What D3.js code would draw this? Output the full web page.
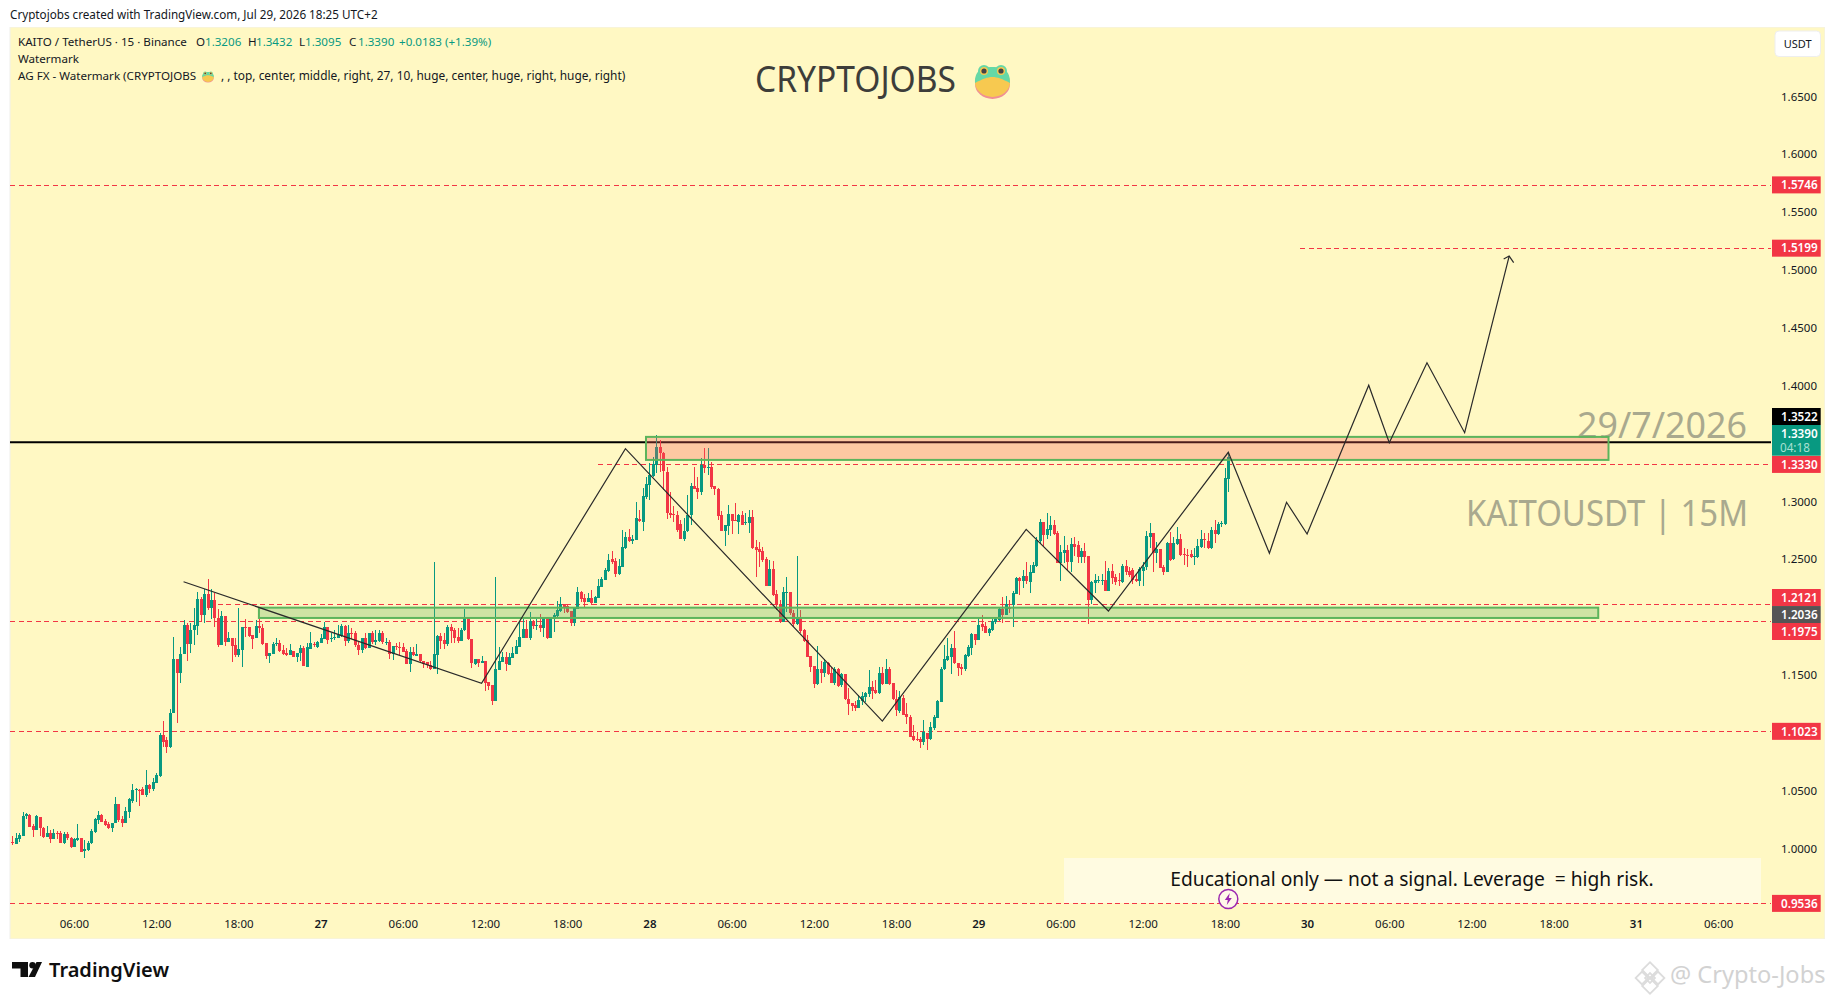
<!DOCTYPE html>
<html><head><meta charset="utf-8">
<style>html,body{margin:0;padding:0;background:#fff}svg{display:block}text{font-family:"Noto Sans",sans-serif}</style>
<script src="https://cdnjs.cloudflare.com/ajax/libs/d3/7.8.5/d3.min.js"></script></head><body><svg id="c" width="1835" height="1000"></svg>
<script>
// [open, high, low, close]
const barsFirst=[[1.0064,1.0119,1.0044,1.0056],[1.0053,1.0143,1.0053,1.0099],[1.0096,1.0143,1.0065,1.0128],[1.0120,1.0327,1.0120,1.0292],[1.0289,1.0321,1.0264,1.0307],[1.0301,1.0307,1.0200,1.0200],[1.0206,1.0220,1.0114,1.0174],[1.0174,1.0301,1.0174,1.0287],[1.0281,1.0281,1.0120,1.0189],[1.0186,1.0200,1.0105,1.0111],[1.0111,1.0206,1.0111,1.0143],[1.0143,1.0166,1.0062,1.0096],[1.0096,1.0177,1.0096,1.0143],[1.0143,1.0163,1.0096,1.0137],[1.0143,1.0163,1.0062,1.0062],[1.0062,1.0157,1.0050,1.0137],[1.0137,1.0157,1.0085,1.0105],[1.0105,1.0114,1.0019,1.0025],[1.0027,1.0105,1.0027,1.0094],[1.0088,1.0220,1.0071,1.0099],[1.0099,1.0099,.9976,.9981],[.9993,1.0085,.9924,1.0004],[.9999,1.0071,.9993,1.0056],[1.0056,1.0183,1.0050,1.0163],[1.0151,1.0278,1.0143,1.0264],[1.0258,1.0336,1.0223,1.0301],[1.0301,1.0310,1.0238,1.0243],[1.0249,1.0264,1.0206,1.0215],[1.0223,1.0243,1.0183,1.0189],[1.0189,1.0229,1.0154,1.0229],[1.0229,1.0457,1.0229,1.0396],[1.0396,1.0396,1.0243,1.0258],[1.0264,1.0287,1.0197,1.0232],[1.0232,1.0373,1.0232,1.0336],[1.0330,1.0445,1.0278,1.0436],[1.0422,1.0569,1.0402,1.0517],[1.0514,1.0531,1.0416,1.0523],[1.0520,1.0523,1.0379,1.0514],[1.0523,1.0546,1.0471,1.0477],[1.0474,1.0690,1.0459,1.0557],[1.0557,1.0566,1.0488,1.0523],[1.0523,1.0621,1.0511,1.0583],[1.0580,1.0667,1.0575,1.0647],[1.0638,1.1007,1.0629,1.0992],[1.0989,1.1110,1.0891,1.0932],[1.0946,1.0978,1.0840,1.0891],[1.0886,1.1217,1.0880,1.1182],[1.1182,1.1839,1.1182,1.1649],[1.1649,1.1649,1.1099,1.1528],[1.1528,1.1750,1.1439,1.1692],[1.1692,1.1986,1.1692,1.1943],[1.1943,1.1957,1.1634,1.1781],[1.1781,1.1957,1.1704,1.1899],[1.1899,1.2092,1.1770,1.1943],[1.1937,1.2231,1.1856,1.2167],[1.2167,1.2187,1.1971,1.2029],[1.2029,1.2251,1.1963,1.2210],[1.2210,1.2340,1.2072,1.2087],[1.2087,1.2251,1.1992,1.2159],[1.2159,1.2222,1.1922,1.2003],[1.2003,1.2078,1.1755,1.1767],[1.1770,1.2066,1.1770,1.2020],[1.2020,1.2020,1.1761,1.1799],[1.1799,1.1885,1.1799,1.1833],[1.1833,1.1833,1.1623,1.1761],[1.1770,1.1827,1.1669,1.1683],[1.1683,1.2087,1.1669,1.1735],[1.1727,1.1925,1.1583,1.1925],[1.1925,1.1992,1.1842,1.1920],[1.1925,1.1925,1.1842,1.1848],[1.1856,1.1856,1.1735,1.1825],[1.1830,1.1986,1.1830,1.1934],[1.1934,1.2009,1.1871,1.1914],[1.1914,1.1951,1.1767,1.1778],[1.1787,1.1787,1.1652,1.1675],[1.1675,1.1704,1.1617,1.1698],[1.1692,1.1799,1.1692,1.1778],[1.1778,1.1827,1.1761,1.1790],[1.1784,1.1813,1.1709,1.1718],[1.1724,1.1767,1.1683,1.1692],[1.1701,1.1741,1.1678,1.1683],[1.1683,1.1778,1.1683,1.1724],[1.1718,1.1718,1.1663,1.1669],[1.1666,1.1701,1.1626,1.1701],[1.1698,1.1767,1.1634,1.1744],[1.1744,1.1761,1.1588,1.1591],[1.1583,1.1790,1.1583,1.1750],[1.1735,1.1882,1.1735,1.1787],[1.1778,1.1799,1.1750,1.1767],[1.1755,1.1807,1.1744,1.1796],[1.1790,1.1865,1.1790,1.1830],[1.1825,1.1968,1.1819,1.1922],[1.1922,1.1922,1.1778,1.1816],[1.1825,1.1871,1.1799,1.1833],[1.1827,1.1899,1.1813,1.1839],[1.1833,1.1940,1.1827,1.1856],[1.1850,1.1951,1.1842,1.1934],[1.1934,1.1940,1.1761,1.1804],[1.1804,1.1943,1.1790,1.1871],[1.1873,1.1914,1.1825,1.1862],[1.1871,1.1894,1.1755,1.1767],[1.1767,1.1799,1.1683,1.1727],[1.1727,1.1830,1.1698,1.1830],[1.1830,1.1871,1.1735,1.1744],[1.1744,1.1873,1.1741,1.1873],[1.1873,1.1894,1.1778,1.1799],[1.1799,1.1899,1.1770,1.1813],[1.1804,1.1899,1.1799,1.1871],[1.1871,1.1894,1.1778,1.1793],[1.1784,1.1833,1.1767,1.1796],[1.1796,1.1813,1.1646,1.1692],[1.1692,1.1761,1.1640,1.1761],[1.1764,1.1790,1.1727,1.1755],[1.1755,1.1799,1.1683,1.1750],[1.1752,1.1784,1.1706,1.1712],[1.1715,1.1732,1.1606,1.1606],[1.1606,1.1750,1.1537,1.1709],[1.1709,1.1750,1.1675,1.1681],[1.1678,1.1776,1.1678,1.1689],[1.1689,1.1689,1.1626,1.1634],[1.1634,1.1634,1.1571,1.1606],[1.1620,1.1626,1.1574,1.1594],[1.1594,1.1634,1.1554,1.1565]];
const barsMiddle=[[1.1560,1.2487,1.1560,1.1692],[1.1684,1.1856,1.1519,1.1848],[1.1848,1.1871,1.1733,1.1802],[1.1813,1.1877,1.1738,1.1779],[1.1779,1.1943,1.1761,1.1925],[1.1923,1.1951,1.1790,1.1894],[1.1900,1.1914,1.1784,1.1833],[1.1836,1.1914,1.1790,1.1807],[1.1807,1.1914,1.1807,1.1900],[1.1900,1.2081,1.1894,1.2012],[1.2012,1.2012,1.1813,1.1819],[1.1822,1.1822,1.1568,1.1614],[1.1609,1.1649,1.1597,1.1649],[1.1652,1.1652,1.1583,1.1614],[1.1617,1.1675,1.1612,1.1629],[1.1629,1.1629,1.1375,1.1445],[1.1450,1.1450,1.1381,1.1419],[1.1424,1.1424,1.1252,1.1289],[1.1289,1.2355,1.1289,1.1560],[1.1557,1.1756,1.1554,1.1629],[1.1620,1.1712,1.1620,1.1666],[1.1666,1.1712,1.1548,1.1606],[1.1597,1.1704,1.1597,1.1666],[1.1658,1.1750,1.1658,1.1701],[1.1692,1.1813,1.1692,1.1761],[1.1756,1.1980,1.1756,1.1836],[1.1830,1.1992,1.1830,1.1908],[1.1908,1.1986,1.1830,1.1830],[1.1830,1.2055,1.1813,1.1974],[1.1980,1.1986,1.1905,1.1934],[1.1937,1.1992,1.1900,1.1943],[1.1943,1.2035,1.1885,1.1920],[1.1920,1.2009,1.1842,1.2003],[1.2003,1.2009,1.1819,1.1828],[1.1830,1.2015,1.1830,1.2009],[1.1992,1.2049,1.1882,1.2026],[1.2021,1.2150,1.2015,1.2072],[1.2067,1.2182,1.2058,1.2124],[1.2124,1.2124,1.2049,1.2095],[1.2107,1.2124,1.2049,1.2055],[1.2061,1.2061,1.1934,1.1963],[1.1957,1.2101,1.1934,1.2090],[1.2084,1.2268,1.2084,1.2228],[1.2228,1.2234,1.2144,1.2170],[1.2176,1.2211,1.2101,1.2142],[1.2142,1.2216,1.2142,1.2176],[1.2176,1.2245,1.2113,1.2130],[1.2136,1.2193,1.2130,1.2182],[1.2176,1.2343,1.2176,1.2280],[1.2274,1.2355,1.2268,1.2340],[1.2334,1.2432,1.2332,1.2418],[1.2412,1.2556,1.2404,1.2504],[1.2510,1.2579,1.2470,1.2487],[1.2493,1.2519,1.2360,1.2383],[1.2383,1.2510,1.2375,1.2453],[1.2447,1.2764,1.2447,1.2617],[1.2608,1.2749,1.2597,1.2706],[1.2706,1.2775,1.2660,1.2671],[1.2671,1.2720,1.2640,1.2686],[1.2680,1.3003,1.2677,1.2867],[1.2856,1.2936,1.2836,1.2844],[1.2836,1.3124,1.2755,1.3057],[1.3052,1.3224,1.3029,1.3161],[1.3155,1.3340,1.3023,1.3239],[1.3233,1.3397,1.3224,1.3331],[1.3325,1.3584,1.3253,1.3478],[1.3478,1.3541,1.3265,1.3426],[1.3432,1.3440,1.3109,1.3276],[1.3265,1.3311,1.2856,1.2913],[1.2913,1.3095,1.2864,1.2893],[1.2902,1.2971,1.2836,1.2896],[1.2893,1.2931,1.2749,1.2764],[1.2815,1.2850,1.2683,1.2689],[1.2689,1.2864,1.2671,1.2752],[1.2758,1.3066,1.2749,1.2896],[1.2890,1.3167,1.2807,1.3144],[1.3144,1.3311,1.3115,1.3121],[1.3124,1.3224,1.3034,1.3095],[1.3092,1.3383,1.3066,1.3325],[1.3325,1.3469,1.3253,1.3302],[1.3302,1.3472,1.3239,1.3308],[1.3308,1.3354,1.3115,1.3138],[1.3144,1.3144,1.3066,1.3115],[1.3118,1.3124,1.2850,1.2885],[1.2893,1.2931,1.2758,1.2758],[1.2758,1.2804,1.2625,1.2804],[1.2798,1.2982,1.2720,1.2902],[1.2902,1.2902,1.2726,1.2841],[1.2850,1.2994,1.2841,1.2841],[1.2833,1.2902,1.2729,1.2890],[1.2890,1.2931,1.2807,1.2807],[1.2824,1.2913,1.2807,1.2833],[1.2824,1.2936,1.2735,1.2873],[1.2873,1.2936,1.2602,1.2608],[1.2614,1.2677,1.2360,1.2594],[1.2597,1.2663,1.2447,1.2576],[1.2579,1.2614,1.2490,1.2504],[1.2510,1.2527,1.2280,1.2283],[1.2280,1.2504,1.2280,1.2427],[1.2427,1.2496,1.2196,1.2202],[1.2208,1.2245,1.2072,1.2116],[1.2124,1.2159,1.1957,1.1972],[1.1972,1.2274,1.1972,1.2228],[1.2222,1.2355,1.2058,1.2228],[1.2228,1.2228,1.2029,1.2044],[1.2049,1.2072,1.1928,1.1951],[1.1951,1.2539,1.1943,1.2009],[1.2009,1.2072,1.1871,1.1894],[1.1900,1.1905,1.1799,1.1807],[1.1813,1.1856,1.1663,1.1669],[1.1675,1.1675,1.1540,1.1583],[1.1589,1.1589,1.1396,1.1433],[1.1433,1.1761,1.1424,1.1560],[1.1566,1.1635,1.1439,1.1525],[1.1525,1.1646,1.1496,1.1623],[1.1617,1.1626,1.1511,1.1519],[1.1525,1.1577,1.1439,1.1445],[1.1439,1.1577,1.1424,1.1560],[1.1566,1.1571,1.1410,1.1416],[1.1421,1.1525,1.1410,1.1517],[1.1517,1.1519,1.1295,1.1301],[1.1301,1.1396,1.1168,1.1260],[1.1266,1.1266,1.1203,1.1243],[1.1252,1.1289,1.1200,1.1229],[1.1229,1.1338,1.1223,1.1295],[1.1289,1.1367,1.1252,1.1329],[1.1324,1.1367,1.1280,1.1352],[1.1347,1.1554,1.1324,1.1407]];
const barsLast=[[1.1407,1.1459,1.1301,1.1375],[1.1381,1.1468,1.1347,1.1358],[1.1352,1.1577,1.1347,1.1525],[1.1525,1.1577,1.1422,1.1433],[1.1433,1.1649,1.1433,1.1563],[1.1563,1.1577,1.1424,1.1433],[1.1439,1.1439,1.1295,1.1301],[1.1306,1.1381,1.1157,1.1208],[1.1197,1.1375,1.1180,1.1318],[1.1312,1.1338,1.1165,1.1168],[1.1174,1.1266,1.1087,1.1145],[1.1148,1.1165,1.0972,1.0978],[1.0984,1.1079,1.0943,1.0949],[1.0958,1.1013,1.0938,1.0949],[1.0955,1.0978,1.0877,1.0932],[1.0932,1.1122,1.0906,1.1018],[1.1007,1.1007,1.0863,1.0958],[1.0955,1.1108,1.0949,1.1062],[1.1053,1.1165,1.1036,1.1148],[1.1142,1.1295,1.1136,1.1286],[1.1280,1.1577,1.1280,1.1566],[1.1563,1.1770,1.1554,1.1649],[1.1640,1.1828,1.1635,1.1672],[1.1666,1.1779,1.1519,1.1744],[1.1744,1.1888,1.1609,1.1614],[1.1614,1.1614,1.1502,1.1568],[1.1577,1.1606,1.1511,1.1563],[1.1563,1.1689,1.1548,1.1684],[1.1675,1.1770,1.1669,1.1753],[1.1747,1.1871,1.1684,1.1865],[1.1865,1.1865,1.1770,1.1813],[1.1813,1.2009,1.1813,1.1943],[1.1949,1.2029,1.1891,1.1928],[1.1934,1.1972,1.1871,1.1877],[1.1871,1.1914,1.1848,1.1908],[1.1900,1.1992,1.1894,1.1974],[1.1972,1.2015,1.1951,1.1992],[1.1986,1.2101,1.1980,1.2084],[1.2078,1.2188,1.1957,1.2029],[1.2029,1.2193,1.2029,1.2124],[1.2087,1.2159,1.2049,1.2081],[1.2113,1.2239,1.1928,1.2219],[1.2214,1.2360,1.2208,1.2349],[1.2349,1.2355,1.2202,1.2320],[1.2320,1.2418,1.2260,1.2366],[1.2366,1.2487,1.2297,1.2326],[1.2314,1.2461,1.2222,1.2398],[1.2395,1.2490,1.2389,1.2461],[1.2453,1.2700,1.2447,1.2677],[1.2671,1.2859,1.2654,1.2833],[1.2833,1.2833,1.2625,1.2720],[1.2720,1.2908,1.2683,1.2769],[1.2764,1.2885,1.2712,1.2804],[1.2804,1.2850,1.2720,1.2729],[1.2738,1.2755,1.2476,1.2481],[1.2481,1.2634,1.2326,1.2571],[1.2562,1.2712,1.2481,1.2588],[1.2591,1.2634,1.2418,1.2487],[1.2487,1.2692,1.2404,1.2643],[1.2643,1.2700,1.2539,1.2620],[1.2631,1.2671,1.2481,1.2530],[1.2530,1.2605,1.2481,1.2582],[1.2582,1.2648,1.2476,1.2530],[1.2542,1.2542,1.1951,1.2159],[1.2159,1.2320,1.2124,1.2314],[1.2306,1.2383,1.2222,1.2332],[1.2326,1.2366,1.2303,1.2332],[1.2326,1.2383,1.2286,1.2332],[1.2332,1.2499,1.2234,1.2237],[1.2237,1.2432,1.2234,1.2412],[1.2409,1.2467,1.2297,1.2352],[1.2360,1.2383,1.2291,1.2314],[1.2332,1.2389,1.2280,1.2326],[1.2314,1.2470,1.2303,1.2455],[1.2455,1.2504,1.2375,1.2401],[1.2409,1.2447,1.2360,1.2378],[1.2418,1.2432,1.2297,1.2332],[1.2343,1.2383,1.2317,1.2323],[1.2323,1.2447,1.2280,1.2427],[1.2409,1.2490,1.2283,1.2447],[1.2441,1.2758,1.2418,1.2712],[1.2706,1.2824,1.2605,1.2741],[1.2741,1.2741,1.2404,1.2562],[1.2562,1.2663,1.2476,1.2600],[1.2600,1.2600,1.2432,1.2438],[1.2444,1.2461,1.2375,1.2401],[1.2401,1.2663,1.2398,1.2651],[1.2651,1.2749,1.2499,1.2504],[1.2510,1.2706,1.2504,1.2651],[1.2643,1.2787,1.2634,1.2686],[1.2686,1.2729,1.2539,1.2548],[1.2556,1.2605,1.2458,1.2548],[1.2550,1.2597,1.2447,1.2545],[1.2553,1.2591,1.2519,1.2530],[1.2533,1.2605,1.2461,1.2539],[1.2527,1.2683,1.2519,1.2622],[1.2617,1.2764,1.2611,1.2686],[1.2683,1.2735,1.2605,1.2677],[1.2669,1.2735,1.2597,1.2608],[1.2608,1.2792,1.2602,1.2764],[1.2764,1.2850,1.2654,1.2729],[1.2729,1.2836,1.2723,1.2818],[1.2813,1.2844,1.2792,1.2824],[1.2815,1.3296,1.2804,1.3210],[1.3206,1.3432,1.3095,1.3390]];

const priceTicks=[1.00,1.05,1.15,1.25,1.30,1.40,1.45,1.50,1.55,1.60,1.65];
const timeTickBars=[18,42,66,90,114,138,162,186,210,234,258,282,306,330,354,378,402,426,450,474,498];
const timeTickLabels=["06:00","12:00","18:00","27","06:00","12:00","18:00","28","06:00","12:00","18:00","29","06:00","12:00","18:00","30","06:00","12:00","18:00","31","06:00"];
const dayLabels=["27","28","29","30","31"];

const levelPrices=[1.5746,1.5199,1.3330,1.2121,1.1975,1.1023,0.9536];
const levelStartBars=[-1,376,171,60,-1,-1,-1];
const resistancePrice=1.3522, lastPrice=1.3390, zonePrice=1.2036;
const supplyZone=[185,1.3568,466,1.3369];
const demandZone=[72,1.2092,463,1.2003];
const trendPath=[[50,1.2316],[137,1.1438],[179,1.3466],[254,1.1112],[296,1.2769],[320,1.2063],[355,1.3435],[367,1.2562],[372,1.3003],[378,1.2729],[396,1.4014],[402,1.3518],[413,1.4209],[424,1.3604],[437,1.5131]];
const badgeLabels=["1.5746","1.5199","1.3522","1.3330","1.2121","1.2036","1.1975","1.1023","0.9536"];
const badgeColors=["#f23645","#f23645","#000000","#f23645","#f23645","#555555","#f23645","#f23645","#f23645"];
const badgeShift=[0,0,-25.7,0,-6.8,0.4,10.3,0,0];

const bars=barsFirst.concat(barsMiddle,barsLast);
const svg=d3.select("#c");
const x=d3.scaleLinear().domain([0,355]).range([12.3,1228.3]);
const y=d3.scaleLinear().domain([1,1.65]).range([849.7,97.65]);
const rx=v=>Math.round(x(v));
const up="#089981",down="#f23645",ink="#131722",bg="#fff8c3",dash="#f23645",zoneGreen="#5cb45c";

// panel
svg.append("rect").attr("x",9.5).attr("y",27).attr("width",1815.5).attr("height",912).attr("fill","#f0f0ec");
svg.append("rect").attr("x",10.5).attr("y",27.5).attr("width",1814).attr("height",911).attr("fill",bg);
// header
svg.append("text").attr("x",10).attr("y",19).attr("font-size",11.7).attr("fill",ink).text("Cryptojobs created with TradingView.com, Jul 29, 2026 18:25 UTC+2");

// watermark text
const wm="#a9a98e";
svg.append("text").attr("x",1747).attr("y",438).attr("text-anchor","end").attr("font-size",36).attr("textLength",170).attr("lengthAdjust","spacingAndGlyphs").attr("fill",wm).text("29/7/2026");
svg.append("text").attr("x",1748).attr("y",526).attr("text-anchor","end").attr("font-size",36).attr("textLength",282).attr("lengthAdjust","spacingAndGlyphs").attr("fill",wm).text("KAITOUSDT | 15M");
svg.append("text").attr("x",755).attr("y",92).attr("font-size",36).attr("textLength",201).attr("lengthAdjust","spacingAndGlyphs").attr("fill","#3d3d3a").text("CRYPTOJOBS");

function frog(cx,cy,s){
  const g=svg.append("g").attr("transform",`translate(${cx},${cy}) scale(${s})`);
  g.append("ellipse").attr("cx",0).attr("cy",2).attr("rx",17.5).attr("ry",15).attr("fill","#f08f94");
  g.append("ellipse").attr("cx",0).attr("cy",0).attr("rx",17.5).attr("ry",15).attr("fill","#f7c950");
  g.append("path").attr("d","M-17.5,1 C-18,-12 -10,-15 0,-15 C10,-15 18,-12 17.5,1 C10,-3 5,-5 0,-5 C-5,-5 -10,-3 -17.5,1Z").attr("fill","#66d8a6");
  [-8.5,8.5].forEach(d=>{
    g.append("circle").attr("cx",d).attr("cy",-11).attr("r",6).attr("fill","#66d8a6");
    g.append("circle").attr("cx",d).attr("cy",-11).attr("r",4).attr("fill","#f7c950");
    g.append("circle").attr("cx",d).attr("cy",-11).attr("r",2.6).attr("fill","#444");
  });
}
frog(992.5,82,1);

// legend
const legendRows=[["KAITO / TetherUS · 15 · Binance",18,ink],["O",196,ink],["1.3206",205,up],["H",248,ink],["1.3432",256,up],["L",299,ink],["1.3095",305,up],["C",349,ink],["1.3390",358,up],["+0.0183 (+1.39%)",399,up]];
legendRows.forEach(r=>svg.append("text").attr("x",r[1]).attr("y",46).attr("font-size",11.6).attr("fill",r[2]).text(r[0]));
svg.append("text").attr("x",18).attr("y",63).attr("font-size",11.6).attr("fill",ink).text("Watermark");
svg.append("text").attr("x",18).attr("y",80).attr("font-size",11.6).attr("fill",ink).text("AG FX - Watermark (CRYPTOJOBS");
frog(208,77,0.33);
svg.append("text").attr("x",221).attr("y",80).attr("font-size",11.9).attr("fill",ink).text(", , top, center, middle, right, 27, 10, huge, center, huge, right, huge, right)");

// USDT box
svg.append("rect").attr("x",1775).attr("y",31).attr("width",45.5).attr("height",25.5).attr("rx",4).attr("fill","#fff").attr("stroke","#eeeeee");
svg.append("text").attr("x",1797.7).attr("y",48).attr("text-anchor","middle").attr("font-size",11).attr("fill",ink).text("USDT");

// levels
levelPrices.forEach((p,i)=>{
  svg.append("line").attr("x1",levelStartBars[i]<0?10:x(levelStartBars[i])).attr("x2",1771).attr("y1",Math.round(y(p))+.5).attr("y2",Math.round(y(p))+.5)
   .attr("stroke",dash).attr("stroke-width",1).attr("stroke-dasharray","5 3.5").attr("shape-rendering","crispEdges");
});
svg.append("line").attr("x1",10).attr("x2",1771).attr("y1",y(resistancePrice)).attr("y2",y(resistancePrice)).attr("stroke","#000").attr("stroke-width",2);

// candles
const cg=svg.append("g").attr("shape-rendering","crispEdges");
cg.selectAll("line").data(bars).join("line")
  .attr("x1",(d,i)=>rx(i)+.5).attr("x2",(d,i)=>rx(i)+.5)
  .attr("y1",d=>y(d[1])).attr("y2",d=>y(d[2]))
  .attr("stroke",d=>d[3]>=d[0]?up:down).attr("stroke-width",1);
cg.selectAll("rect").data(bars).join("rect")
  .attr("x",(d,i)=>rx(i)-1).attr("width",3)
  .attr("y",d=>y(Math.max(d[0],d[3])))
  .attr("height",d=>Math.max(1,Math.abs(y(d[0])-y(d[3]))))
  .attr("fill",d=>d[3]>=d[0]?up:down);

// zones
[[supplyZone,"#f85856"],[demandZone,zoneGreen]].forEach(([z,f])=>{
  svg.append("rect").attr("x",x(z[0])).attr("y",y(z[1])).attr("width",x(z[2])-x(z[0])).attr("height",y(z[3])-y(z[1]))
    .attr("fill",f).attr("fill-opacity",.3).attr("stroke",zoneGreen).attr("stroke-width",2);
});

// path + arrow
svg.append("path").datum(trendPath).attr("d",d3.line().x(d=>x(d[0])).y(d=>y(d[1]))).attr("fill","none").attr("stroke","#2a2a2a").attr("stroke-width",1.2);
const tip=trendPath[trendPath.length-1], tx=x(tip[0]), ty=y(tip[1]);
svg.append("path").attr("d",`M${tx-5.5},${ty+3} L${tx},${ty} L${tx+4.5},${ty+6.5}`).attr("fill","none").attr("stroke","#2a2a2a").attr("stroke-width",1.2);

// axes
const xAxis=d3.axisBottom(x).tickValues(timeTickBars).tickSize(0).tickFormat((d,i)=>timeTickLabels[i]);
const xg=svg.append("g").attr("transform","translate(0,917)").call(xAxis);
xg.select(".domain").remove();
xg.selectAll("text").attr("font-size",11.5).attr("fill",ink).attr("font-family",'"Noto Sans",sans-serif');
xg.selectAll("text").filter(function(){return dayLabels.includes(this.textContent)}).attr("font-weight",600);
const yAxis=d3.axisRight(y).tickValues(priceTicks).tickSize(0).tickFormat(d3.format(".4f"));
const yg=svg.append("g").attr("transform","translate(1781,-1.2)").call(yAxis);
yg.select(".domain").remove();
yg.selectAll("text").attr("x",0).attr("font-size",11.5).attr("fill",ink).attr("font-family",'"Noto Sans",sans-serif');

// disclaimer
svg.append("rect").attr("x",1064).attr("y",858).attr("width",697).attr("height",45).attr("fill","#fffbe1");
svg.append("text").attr("x",1412).attr("y",886).attr("text-anchor","middle").attr("font-size",19.2).attr("fill","#111").attr("xml:space","preserve").text("Educational only — not a signal. Leverage  = high risk.");
// bolt marker
svg.append("circle").attr("cx",x(355)).attr("cy",899).attr("r",9.5).attr("fill","#fff8e8").attr("stroke","#9c27b0").attr("stroke-width",1.5);
svg.append("path").attr("transform",`translate(${x(355)},899)`).attr("d","M1.5,-6 L-3.5,1 L-0.5,1 L-1.5,6 L3.5,-1 L0.5,-1Z").attr("fill","#9c27b0");

// price badges
const badgePrices=badgeLabels.map(Number);
badgeLabels.forEach((l,i)=>{
  const cy=y(badgePrices[i])+badgeShift[i];
  svg.append("rect").attr("x",1772).attr("y",cy-8.5).attr("width",48.7).attr("height",17).attr("fill",badgeColors[i]);
  svg.append("text").attr("x",1781).attr("y",cy+4.2).attr("font-size",11.7).attr("font-weight",600).attr("fill","#fff").text(l);
});
svg.append("rect").attr("x",1772).attr("y",425).attr("width",48.7).attr("height",30.7).attr("fill",up);
svg.append("text").attr("x",1781).attr("y",437.5).attr("font-size",11.7).attr("font-weight",600).attr("fill","#fff").text(lastPrice.toFixed(4));
svg.append("text").attr("x",1780).attr("y",451.5).attr("font-size",11.7).attr("fill","#a8e0d2").text("04:18");

// TradingView logo
const logo=svg.append("g").attr("fill","#0f0f0f");
logo.append("path").attr("d","M12,962 H28 V977 H20.5 V968.5 H12Z");
logo.append("circle").attr("cx",32.5).attr("cy",965.2).attr("r",3.2);
logo.append("path").attr("d","M36.5,962 H42 L35,977 H28.5Z");
svg.append("text").attr("x",49).attr("y",976.5).attr("font-family","Inter, 'Noto Sans', sans-serif").attr("font-size",20).attr("font-weight",600).attr("fill","#0f0f0f").text("TradingView");

// footer watermark
const bn=svg.append("g").attr("fill","none").attr("stroke","#dcdcdc").attr("stroke-width",1.8);
[[1650,970,5.5],[1642,978,4.5],[1658,978,4.5],[1650,978,3.5],[1650,986,5.5]].forEach(d=>bn.append("rect").attr("x",d[0]-d[2]).attr("y",d[1]-d[2]).attr("width",d[2]*2).attr("height",d[2]*2).attr("transform",`rotate(45 ${d[0]} ${d[1]})`));
svg.append("text").attr("x",1670).attr("y",983).attr("font-size",23.6).attr("fill","#d2d2d2").text("@ Crypto-Jobs");
</script></body></html>
